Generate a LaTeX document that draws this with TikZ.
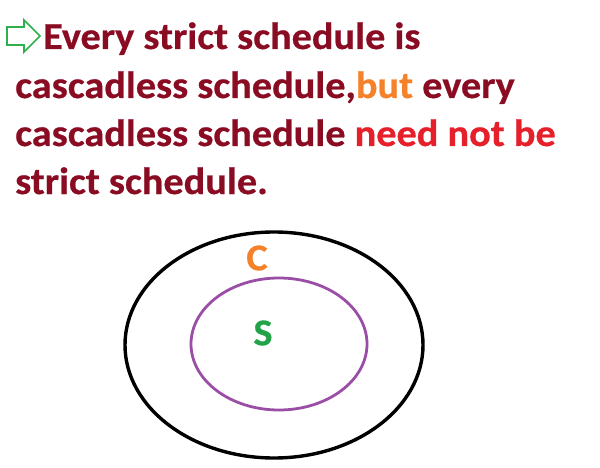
\documentclass[tikz,border=0pt]{standalone}
\usepackage{fontspec}
\setmainfont{Carlito}[FakeStretch=1.06,BoldFeatures={FakeBold=0.6}]
\definecolor{darkred}{HTML}{8A0C22}
\definecolor{orng}{HTML}{F5822A}
\definecolor{brightred}{HTML}{E6202B}
\definecolor{sgreen}{HTML}{22A34A}
\definecolor{agreen}{HTML}{2EB04C}
\definecolor{purp}{HTML}{9A4EA6}
\begin{document}
\begin{tikzpicture}[x=1pt,y=-1pt,
  txt/.style={anchor=base west,inner sep=0pt,font=\fontsize{38}{42}\selectfont\bfseries,text=darkred},
  lbl/.style={inner sep=0pt,font=\fontsize{38}{42}\selectfont\bfseries}]
\useasboundingbox (0,0) rectangle (600,468);
% arrow icon
\draw[agreen,line width=1.6pt,line join=miter]
  (7,27) -- (24,27) -- (24,20) -- (40,36) -- (24,52) -- (24,45) -- (7,45) -- cycle;
% text lines
\node[txt] (l1) at (43,49) {Every strict schedule is};
\node[txt] (l2) at (15,98) {cascadless schedule,\textcolor{orng}{but} every};
\node[txt] (l3) at (15,146) {cascadless schedule \textcolor{brightred}{need not be}};
\node[txt] (l4) at (15,194) {strict schedule.};
% ellipses
\draw[black,line width=3.4pt] (274,345) ellipse [x radius=149,y radius=113];
\draw[purp,line width=2.8pt] (279,344) ellipse [x radius=88,y radius=66];
\node[lbl,text=orng] (c) at (257,258) {C};
\node[lbl,text=sgreen] (s) at (263,333) {S};
\end{tikzpicture}
\end{document}
